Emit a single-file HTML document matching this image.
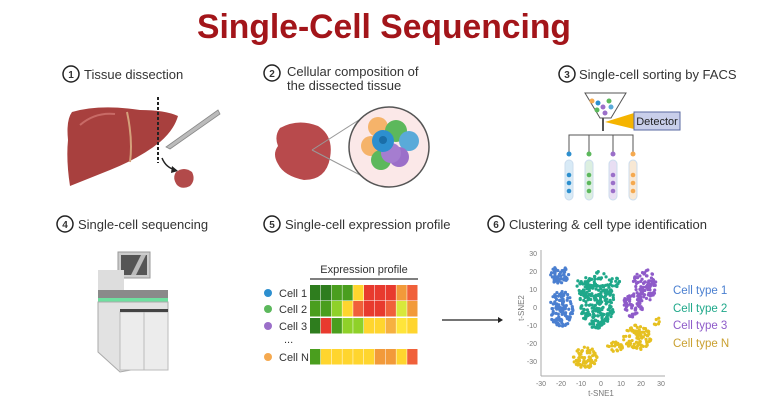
<!DOCTYPE html>
<html><head><meta charset="utf-8"><style>
html,body{margin:0;padding:0;background:#fff;}
body{width:768px;height:402px;overflow:hidden;font-family:"Liberation Sans",sans-serif;}
</style></head><body>
<svg id="s" width="768" height="402" viewBox="0 0 768 402" xmlns="http://www.w3.org/2000/svg" font-family="Liberation Sans, sans-serif">
<text x="384" y="38" text-anchor="middle" font-size="34" font-weight="bold" fill="#a3151a" textLength="374" lengthAdjust="spacingAndGlyphs">Single-Cell Sequencing</text>

<!-- step labels -->
<g font-size="13" fill="#333">
<circle cx="71" cy="74" r="8" fill="none" stroke="#222" stroke-width="1.5"/><text x="71" y="78" font-size="10" font-weight="bold" text-anchor="middle">1</text>
<text x="84" y="79">Tissue dissection</text>
<circle cx="272" cy="73" r="8" fill="none" stroke="#222" stroke-width="1.5"/><text x="272" y="77" font-size="10" font-weight="bold" text-anchor="middle">2</text>
<text x="287" y="76">Cellular composition of</text><text x="287" y="90">the dissected tissue</text>
<circle cx="567" cy="74" r="8" fill="none" stroke="#222" stroke-width="1.5"/><text x="567" y="78" font-size="10" font-weight="bold" text-anchor="middle">3</text>
<text x="579" y="79">Single-cell sorting by FACS</text>
<circle cx="65" cy="224" r="8" fill="none" stroke="#222" stroke-width="1.5"/><text x="65" y="228" font-size="10" font-weight="bold" text-anchor="middle">4</text>
<text x="78" y="229">Single-cell sequencing</text>
<circle cx="272" cy="224" r="8" fill="none" stroke="#222" stroke-width="1.5"/><text x="272" y="228" font-size="10" font-weight="bold" text-anchor="middle">5</text>
<text x="285" y="229">Single-cell expression profile</text>
<circle cx="496" cy="224" r="8" fill="none" stroke="#222" stroke-width="1.5"/><text x="496" y="228" font-size="10" font-weight="bold" text-anchor="middle">6</text>
<text x="509" y="229">Clustering &amp; cell type identification</text>
</g>

<!-- liver -->
<path d="M72 112 Q100 104 140 110 Q165 110 178 116 Q174 130 160 142 Q140 158 110 170 Q85 180 70 186 Q66 160 68 140 Q66 120 72 112Z" fill="#a8403e"/>
<path d="M127 112 Q133 140 130 162" stroke="#d4a07a" stroke-width="2" fill="none"/>
<path d="M80 125 Q95 112 115 114" stroke="#c86a66" stroke-width="2" fill="none"/>
<line x1="158" y1="97" x2="158" y2="163" stroke="#222" stroke-width="2" stroke-dasharray="3,2"/>
<path d="M162 158 Q166 168 176 170" stroke="#222" stroke-width="1.5" fill="none"/><path d="M172 166 L178 171 L171 173Z" fill="#222"/>
<path d="M176 172 Q184 166 192 172 Q196 180 190 186 Q182 190 177 185 Q172 178 176 172Z" fill="#b24a4a"/>
<path d="M166 147 L218 110 L220 114 L170 149Z" fill="#bbb" stroke="#888" stroke-width="0.8"/>

<!-- tissue & magnifier -->
<path d="M280 128 Q298 118 318 126 Q334 136 330 158 Q326 180 304 180 Q284 176 278 164 Q272 154 278 146 Q274 136 280 128Z" fill="#b84a4c"/>
<line x1="312" y1="150" x2="362" y2="118" stroke="#999"/><line x1="312" y1="150" x2="362" y2="176" stroke="#999"/>
<circle cx="389" cy="147" r="40" fill="#fbe8e8" stroke="#555" stroke-width="1.5"/>
<circle cx="378" cy="127" r="10" fill="#f5b36a"/><circle cx="371" cy="146" r="10" fill="#f5b36a"/>
<circle cx="396" cy="131" r="11" fill="#5cb85c"/><circle cx="409" cy="141" r="10" fill="#5aaad9"/>
<circle cx="399" cy="157" r="10" fill="#9b6fc9"/><circle cx="381" cy="160" r="10" fill="#5cb85c"/>
<circle cx="391" cy="153" r="10" fill="#a57dd0"/><circle cx="383" cy="141" r="11" fill="#2d8fcf"/><circle cx="383" cy="140" r="4" fill="#1a6ea8"/>

<!-- FACS -->
<path d="M585 93 L626 93 L611 118 L600 118Z" fill="#fff" stroke="#555"/>
<g><circle cx="592" cy="101" r="2.5" fill="#f5a94f"/><circle cx="598" cy="103" r="2.5" fill="#2d8fcf"/><circle cx="609" cy="101" r="2.5" fill="#5cb85c"/><circle cx="603" cy="107" r="2.5" fill="#9b6fc9"/><circle cx="597" cy="110" r="2.5" fill="#5cb85c"/><circle cx="611" cy="107" r="2.5" fill="#5aaad9"/><circle cx="605" cy="113" r="2.5" fill="#9b6fc9"/></g>
<line x1="603" y1="118" x2="603" y2="131" stroke="#555" stroke-width="2"/>
<path d="M605 122 L634 113 L634 129Z" fill="#f5b400"/>
<rect x="634" y="112" width="46" height="18" fill="#c9cfea" stroke="#5a6aa0"/>
<text x="657" y="125" font-size="11" text-anchor="middle" fill="#222">Detector</text>
<path d="M569 152 L569 135 L633 135 L633 152 M589 135 L589 152 M613 135 L613 152" stroke="#555" fill="none"/>
<g id="tubes"></g>

<!-- sequencer -->
<rect x="118" y="252" width="32" height="26" fill="#ccc" stroke="#999"/><rect x="121" y="255" width="26" height="20" fill="#555"/><path d="M131 275 L141 255 L146 255 L136 275Z" fill="#bbb"/>
<rect x="98" y="270" width="26" height="22" fill="#ddd"/>
<path d="M98 290 L168 290 L168 300 L98 300Z" fill="#8a8a8a"/>
<rect x="98" y="298" width="70" height="4" fill="#6fe0a0"/>
<path d="M98 302 L168 302 L168 363 L120 372 L98 352Z" fill="#e2e2e2" stroke="#aaa"/>
<rect x="120" y="312" width="48" height="58" fill="#ececec" stroke="#bbb"/>
<line x1="144" y1="312" x2="144" y2="370" stroke="#bbb"/><rect x="120" y="309" width="48" height="3" fill="#444"/>

<!-- heatmap -->
<text x="364" y="273" font-size="11" text-anchor="middle" fill="#333">Expression profile</text>
<line x1="310" y1="279" x2="418" y2="279" stroke="#333" stroke-width="1.2"/>
<g font-size="11" fill="#333">
<circle cx="268" cy="293" r="4" fill="#2d8fcf"/><text x="279" y="297">Cell 1</text>
<circle cx="268" cy="309" r="4" fill="#5cb85c"/><text x="279" y="313">Cell 2</text>
<circle cx="268" cy="326" r="4" fill="#9b6fc9"/><text x="279" y="330">Cell 3</text>
<text x="284" y="343">...</text>
<circle cx="268" cy="357" r="4" fill="#f5a94f"/><text x="279" y="361">Cell N</text>
</g>
<g id="heat"></g>
<line x1="442" y1="320" x2="498" y2="320" stroke="#222" stroke-width="1.3"/><path d="M498 317 L503 320 L498 323Z" fill="#222"/>

<!-- scatter -->
<g font-size="7" fill="#777">
<line x1="541" y1="250" x2="541" y2="376" stroke="#aaa"/><line x1="541" y1="376" x2="665" y2="376" stroke="#aaa"/>
<text x="537" y="256" text-anchor="end">30</text><text x="537" y="274" text-anchor="end">20</text><text x="537" y="292" text-anchor="end">10</text><text x="537" y="310" text-anchor="end">0</text><text x="537" y="328" text-anchor="end">-10</text><text x="537" y="346" text-anchor="end">-20</text><text x="537" y="364" text-anchor="end">-30</text>
<text x="541" y="386" text-anchor="middle">-30</text><text x="561" y="386" text-anchor="middle">-20</text><text x="581" y="386" text-anchor="middle">-10</text><text x="601" y="386" text-anchor="middle">0</text><text x="621" y="386" text-anchor="middle">10</text><text x="641" y="386" text-anchor="middle">20</text><text x="661" y="386" text-anchor="middle">30</text>
<text x="601" y="396" text-anchor="middle" font-size="8">t-SNE1</text>
<text x="524" y="308" text-anchor="middle" font-size="8" transform="rotate(-90 524 308)">t-SNE2</text>
</g>
<g id="dots"></g>
<g font-size="11.5">
<text x="673" y="294" fill="#4a7fd0">Cell type 1</text>
<text x="673" y="312" fill="#1fa88a">Cell type 2</text>
<text x="673" y="329" fill="#8e5bc9">Cell type 3</text>
<text x="673" y="347" fill="#c9a030">Cell type N</text>
</g>
</svg>
<script>
var NS="http://www.w3.org/2000/svg";
function el(p,t,a){var e=document.createElementNS(NS,t);for(var k in a)e.setAttribute(k,a[k]);document.getElementById(p).appendChild(e);}
var C={D:"#2e7d1e",G:"#4a9e1e",L:"#8fd129",Y:"#ffd52e",y:"#ffe53a",l:"#d8e83a",O:"#f29a3a",o:"#f6b040",R:"#e83a2e",r:"#f0603a"};
var rows=[["DDGGYRRROr",285],["GGLYrRRrlO",301],["DRGLLYYoyY",318],["GYYYYYOOYr",349]];
rows.forEach(function(r){for(var i=0;i<10;i++)el("heat","rect",{x:310+i*10.8,y:r[1],width:10.3,height:15.5,fill:C[r[0][i]]});});
var tc=[[569,"#2d8fcf","#d8eaf6"],[589,"#5cb85c","#dcefe0"],[613,"#9b6fc9","#e8def3"],[633,"#f5a94f","#f8e8d4"]];
tc.forEach(function(t){el("tubes","circle",{cx:t[0],cy:154,r:2.5,fill:t[1]});el("tubes","rect",{x:t[0]-4,y:160,width:8,height:40,rx:4,fill:t[2],stroke:"#cde"});for(var j=0;j<3;j++)el("tubes","circle",{cx:t[0],cy:175+j*8,r:2.3,fill:t[1]});});
var seed=7;function rnd(){seed=(seed*16807)%2147483647;return seed/2147483647;}
function blob(cx,cy,rx,ry,n,c){for(var i=0;i<n;i++){var a=rnd()*6.283,d=Math.sqrt(rnd());var x=cx+Math.cos(a)*d*rx,y=cy+Math.sin(a)*d*ry;el("dots","circle",{cx:601+x*2,cy:307-y*1.8,r:1.6,fill:c});}}
blob(-21,18,5,5,55,"#4a7fd0");blob(-20,-1,6,10,110,"#4a7fd0");
blob(-2,4,9,16,230,"#1fa88a");blob(-8,12,5,5,30,"#1fa88a");blob(7,14,3,3,12,"#1fa88a");
blob(22,12,6,9,90,"#8e5bc9");blob(16,1,5,7,60,"#8e5bc9");
blob(-8,-28,6,6,70,"#e6c020");blob(18,-17,7,7,90,"#e6c020");blob(7,-22,4,3,22,"#e6c020");blob(28,-8,2,2,6,"#e6c020");
</script>
</body></html>
